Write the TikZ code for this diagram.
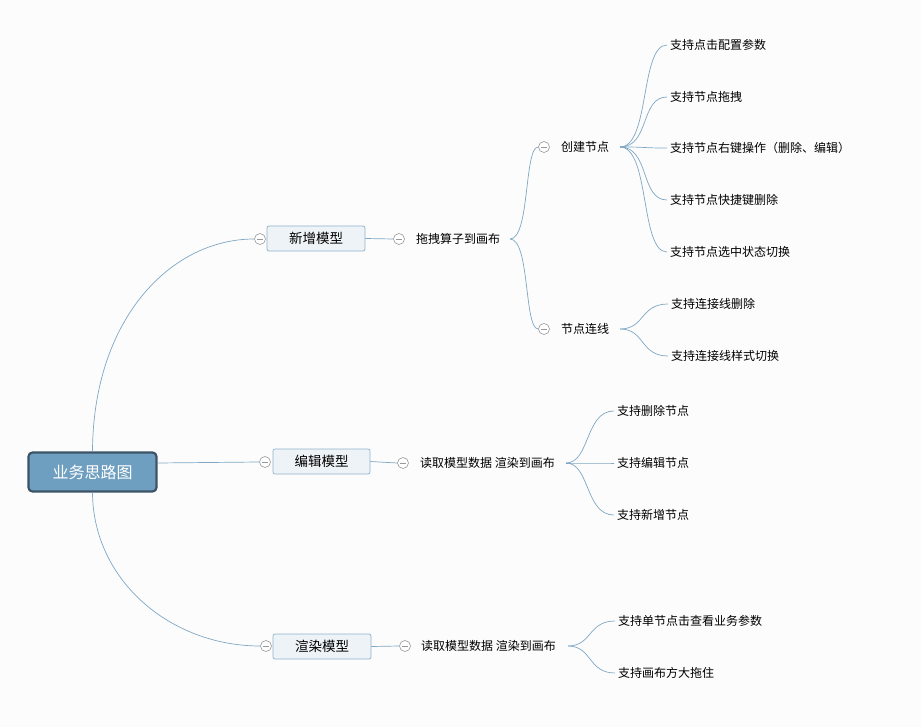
\documentclass[tikz,border=0pt]{standalone}
\usepackage{fontspec}
\newfontfamily\cjk{Noto Sans CJK SC}
\definecolor{ln}{HTML}{7FA7C4}
\definecolor{rootfill}{HTML}{6F9FC0}
\definecolor{rootdraw}{HTML}{3D5468}
\definecolor{boxfill}{HTML}{EEF3F7}
\definecolor{boxdraw}{HTML}{8FB3CC}
\begin{document}
\begin{tikzpicture}[x=1pt,y=-1pt,font=\cjk,
  conn/.style={draw=ln,line width=0.7pt},
  mainbox/.style={draw=boxdraw,fill=boxfill,rounded corners=2pt,minimum height=25pt,font=\cjk\fontsize{13.5}{15}\selectfont,line width=0.7pt},
  leaf/.style={anchor=west,inner sep=0pt,font=\cjk\fontsize{12}{14}\selectfont},
  mid/.style={anchor=west,inner sep=0pt,font=\cjk\fontsize{12}{14}\selectfont},
  tog/.style={circle,draw=gray!80,fill=white,minimum size=11pt,inner sep=0pt,line width=0.6pt,path picture={\draw[gray!80,line width=0.6pt] ([xshift=-3pt]path picture bounding box.center)--([xshift=3pt]path picture bounding box.center);}}]
\useasboundingbox[fill=white!98!gray] (0,0) rectangle (921,727);
\node[draw=rootdraw,fill=rootfill,line width=2.2pt,rounded corners=4pt,minimum width=128pt,minimum height=39pt,text=white,font=\cjk\fontsize{16}{18}\selectfont] (root) at (92.5,472) {业务思路图};
% level 1
\node[mainbox,minimum width=98pt] (m1) at (316,238.5) {新增模型};
\node[mainbox,minimum width=97pt] (m2) at (321.5,461.5) {编辑模型};
\node[mainbox,minimum width=98pt] (m3) at (322,646.5) {渲染模型};
\node[tog] (t1) at (260,239) {};
\node[tog] (t2) at (265,462) {};
\node[tog] (t3) at (266,646) {};
\draw[conn] (root.north) .. controls (93,320) and (170,239) .. (t1.west);
\draw[conn] ([yshift=9pt]root.east) -- (t2.west);
\draw[conn] (root.south) .. controls (93,580) and (170,646) .. (t3.west);
% level 2
\node[tog] (t11) at (399,239) {};
\node[tog] (t21) at (403,463) {};
\node[tog] (t31) at (405,646) {};
\draw[conn] (m1.east) -- (t11.west);
\draw[conn] (m2.east) -- (t21.west);
\draw[conn] (m3.east) -- (t31.west);
\node[mid] (a1) at (416,239) {拖拽算子到画布};
\node[mid] (b1) at (420,463) {读取模型数据 渲染到画布};
\node[mid] (c1) at (421,646) {读取模型数据 渲染到画布};
\coordinate (a1o) at (510,239);
\coordinate (b1o) at (566,463);
\coordinate (c1o) at (568,646);
% level 3 under a1
\node[tog] (t111) at (544,147) {};
\node[tog] (t112) at (544,329) {};
\draw[conn] (a1o) .. controls (530,239) and (524,147) .. (t111.west);
\draw[conn] (a1o) .. controls (530,239) and (524,329) .. (t112.west);
\node[mid] (n1) at (561,147) {创建节点};
\node[mid] (n2) at (561,329) {节点连线};
\coordinate (n1o) at (620,147);
\coordinate (n2o) at (620,329);
\node[leaf] (l1) at (670,45) {支持点击配置参数};
\node[leaf] (l2) at (670,97) {支持节点拖拽};
\node[leaf] (l3) at (670,148) {支持节点右键操作（删除、编辑）};
\node[leaf] (l4) at (670,200) {支持节点快捷键删除};
\node[leaf] (l5) at (670,252) {支持节点选中状态切换};
\node[leaf] (l6) at (671,304) {支持连接线删除};
\node[leaf] (l7) at (671,356) {支持连接线样式切换};
\foreach \l/\y in {l1/45,l2/97,l3/148,l4/200,l5/252}
  \draw[conn] (n1o) .. controls (650,147) and (640,\y) .. ([xshift=-3pt]\l.west);
\foreach \l/\y in {l6/304,l7/356}
  \draw[conn] (n2o) .. controls (645,329) and (640,\y) .. ([xshift=-3pt]\l.west);
\node[leaf] (e1) at (617,411) {支持删除节点};
\node[leaf] (e2) at (617,463) {支持编辑节点};
\node[leaf] (e3) at (617,515) {支持新增节点};
\foreach \l/\y in {e1/411,e2/463,e3/515}
  \draw[conn] (b1o) .. controls (590,463) and (585,\y) .. ([xshift=-3pt]\l.west);
\node[leaf] (r1) at (618,621) {支持单节点击查看业务参数};
\node[leaf] (r2) at (618,673) {支持画布方大拖住};
\foreach \l/\y in {r1/621,r2/673}
  \draw[conn] (c1o) .. controls (592,646) and (588,\y) .. ([xshift=-3pt]\l.west);
\end{tikzpicture}
\end{document}
